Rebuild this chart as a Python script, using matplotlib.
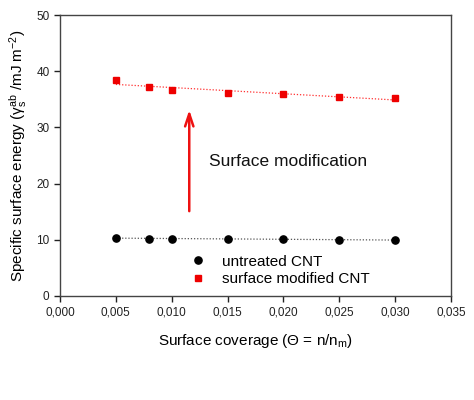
import numpy as np
import matplotlib
matplotlib.use("Agg")
import matplotlib.pyplot as plt
from matplotlib.ticker import FuncFormatter, MultipleLocator

plt.rcParams['font.family'] = ['Liberation Sans', 'DejaVu Sans']
plt.rcParams['mathtext.fontset'] = 'custom'
plt.rcParams['mathtext.rm'] = 'Liberation Sans'
plt.rcParams['mathtext.it'] = 'Liberation Sans:italic'
plt.rcParams['mathtext.bf'] = 'Liberation Sans:bold'

coverage = [0.005, 0.008, 0.010, 0.015, 0.020, 0.025, 0.030]
untreated = [10.4, 10.2, 10.2, 10.1, 10.1, 10.0, 10.0]
modified = [38.4, 37.1, 36.7, 36.2, 35.9, 35.4, 35.2]
series_labels = ['untreated CNT', 'surface modified CNT']
annotation = 'Surface modification'

fig = plt.figure(figsize=(4.74, 4.0), dpi=100)
ax = fig.add_axes([60/474, 1-296/400, 391/474, 281/400])

x = np.array(coverage)
xf = np.array([x.min(), x.max()])
for ys, col in [(untreated, '#555555'), (modified, '#ff3030')]:
    p = np.polyfit(x, ys, 1)
    ax.plot(xf, np.polyval(p, xf), ls=(0, (1, 1.5)), lw=0.9, color=col, zorder=2)

h1, = ax.plot(coverage, untreated, 'o', color='black', ms=5.2, ls='none', zorder=3)
h2, = ax.plot(coverage, modified, 's', color='#ee0000', ms=5, ls='none', zorder=3)

ax.annotate('', xy=(0.01157, 33.6), xytext=(0.01157, 14.6),
            arrowprops=dict(arrowstyle='->, head_length=0.9, head_width=0.3',
                            color='#ee1111', lw=1.8))
ax.text(0.01334, 23.9, annotation, fontsize=12.5, va='center', ha='left', color='#111111')

ax.set_xlim(0, 0.035)
ax.set_ylim(0, 50)
ax.xaxis.set_major_locator(MultipleLocator(0.005))
ax.yaxis.set_major_locator(MultipleLocator(10))
ax.xaxis.set_major_formatter(FuncFormatter(lambda v, p: f'{v:.3f}'.replace('.', ',')))
ax.tick_params(direction='out', length=4, width=1, labelsize=8.5, colors='#222222')
for s in ax.spines.values():
    s.set_color('#444444')
    s.set_linewidth(1)

ax.set_xlabel(r'Surface coverage (Θ = n/n$\mathregular{_m}$)', fontsize=11, labelpad=10)
ax.set_ylabel(r'Specific surface energy ($\mathregular{γ_s^{ab}}$ /mJ m$\mathregular{^{-2}}$)',
              fontsize=11, labelpad=5)

leg = ax.legend([h1, h2], series_labels, loc='center left',
                bbox_to_anchor=(190/474, 1-270.5/400), bbox_transform=fig.transFigure,
                frameon=False, fontsize=11, handlelength=1.0, handletextpad=1.1,
                borderpad=0, borderaxespad=0, labelspacing=0.25)

fig.savefig('out.png', dpi=100)
